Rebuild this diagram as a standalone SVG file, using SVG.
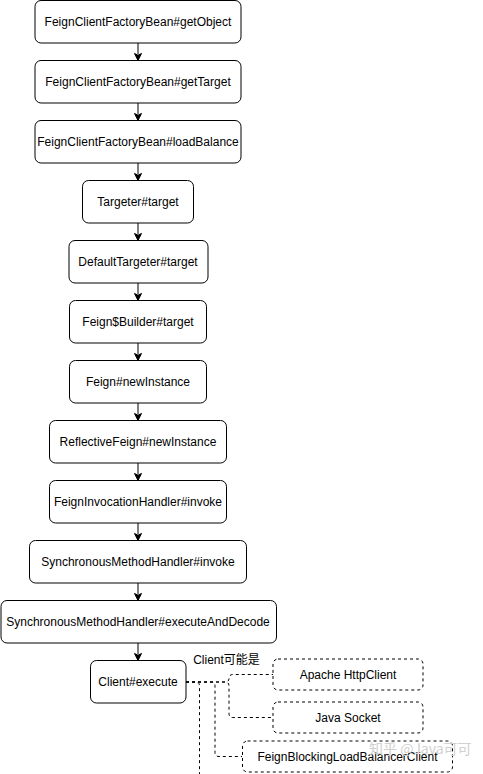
<svg xmlns="http://www.w3.org/2000/svg" width="483" height="774" viewBox="0 0 483 774">
<style>
.n{fill:#fff;stroke:#000;stroke-width:1}
.d{fill:#fff;stroke:#000;stroke-width:1;stroke-dasharray:3 3}
.t{font-family:"Liberation Sans",Arial,"Noto Sans CJK SC",sans-serif;font-size:12px;fill:#000;text-anchor:middle;dominant-baseline:central}
.e{fill:none;stroke:#000;stroke-width:1}
.de{fill:none;stroke:#000;stroke-width:1;stroke-dasharray:3 3}
.ah{fill:#000;stroke:#000;stroke-width:1}
</style>
<rect width="483" height="774" fill="#fff"/>
<g id="connectors">
<path class="e" d="M138 43V54 M138 103V114 M138 163V174 M138 223V234 M138 283V294 M138 343V354 M138 403V414 M138 463V474 M138 523V534 M138 583V594 M138 643V654"/>
<polygon class="ah" points="138,60.5 134.5,53.5 138,55.2 141.5,53.5"/>
<polygon class="ah" points="138,120.5 134.5,113.5 138,115.2 141.5,113.5"/>
<polygon class="ah" points="138,180.5 134.5,173.5 138,175.2 141.5,173.5"/>
<polygon class="ah" points="138,240.5 134.5,233.5 138,235.2 141.5,233.5"/>
<polygon class="ah" points="138,300.5 134.5,293.5 138,295.2 141.5,293.5"/>
<polygon class="ah" points="138,360.5 134.5,353.5 138,355.2 141.5,353.5"/>
<polygon class="ah" points="138,420.5 134.5,413.5 138,415.2 141.5,413.5"/>
<polygon class="ah" points="138,480.5 134.5,473.5 138,475.2 141.5,473.5"/>
<polygon class="ah" points="138,540.5 134.5,533.5 138,535.2 141.5,533.5"/>
<polygon class="ah" points="138,600.5 134.5,593.5 138,595.2 141.5,593.5"/>
<polygon class="ah" points="138,660.5 134.5,653.5 138,655.2 141.5,653.5"/>
<path class="de" d="M186 682H225Q229 682 229 678.5Q229 674.5 233 674.5H273"/>
<path class="de" d="M186 682H225Q229 682 229 686V713.5Q229 717.5 233 717.5H273"/>
<path class="de" d="M186 682H211Q215 682 215 686V752.5Q215 756.5 219 756.5H242"/>
<path class="de" d="M186 682H195.5Q199.5 682 199.5 686V774"/>
</g>
<g id="n1"><rect class="n" x="35" y="0.5" width="206" height="42.5" rx="6"/><text class="t" x="138" y="22">FeignClientFactoryBean#getObject</text></g>
<g id="n2"><rect class="n" x="35" y="60.5" width="206" height="42.5" rx="6"/><text class="t" x="138" y="82">FeignClientFactoryBean#getTarget</text></g>
<g id="n3"><rect class="n" x="35" y="120.5" width="206" height="42.5" rx="6"/><text class="t" x="138" y="142">FeignClientFactoryBean#loadBalance</text></g>
<g id="n4"><rect class="n" x="82.5" y="180.5" width="111" height="42.5" rx="6"/><text class="t" x="138" y="202">Targeter#target</text></g>
<g id="n5"><rect class="n" x="69" y="240.5" width="139" height="42.5" rx="6"/><text class="t" x="138" y="262">DefaultTargeter#target</text></g>
<g id="n6"><rect class="n" x="69.5" y="300.5" width="137" height="42.5" rx="6"/><text class="t" x="138" y="322">Feign$Builder#target</text></g>
<g id="n7"><rect class="n" x="69.5" y="360.5" width="137" height="42.5" rx="6"/><text class="t" x="138" y="382">Feign#newInstance</text></g>
<g id="n8"><rect class="n" x="49.5" y="420.5" width="177" height="42.5" rx="6"/><text class="t" x="138" y="442">ReflectiveFeign#newInstance</text></g>
<g id="n9"><rect class="n" x="49.5" y="480.5" width="177" height="42.5" rx="6"/><text class="t" x="138" y="502">FeignInvocationHandler#invoke</text></g>
<g id="n10"><rect class="n" x="29.5" y="540.5" width="217" height="42.5" rx="6"/><text class="t" x="138" y="562">SynchronousMethodHandler#invoke</text></g>
<g id="n11"><rect class="n" x="1" y="600.5" width="275.5" height="42.5" rx="6"/><text class="t" x="138" y="622">SynchronousMethodHandler#executeAndDecode</text></g>
<g id="n12"><rect class="n" x="90.5" y="660.5" width="95.5" height="42.5" rx="6"/><text class="t" x="138" y="682">Client#execute</text></g>
<g id="label"><text class="t" x="226.5" y="660">Client可能是</text></g>
<g id="n13"><rect class="d" x="273" y="659" width="150" height="31" rx="5"/><text class="t" x="348" y="674.5">Apache HttpClient</text></g>
<g id="n14"><rect class="d" x="273" y="702" width="150" height="31" rx="5"/><text class="t" x="348" y="717.5">Java Socket</text></g>
<g id="n15"><rect class="d" x="242.5" y="741" width="210" height="31" rx="5"/><text class="t" x="347.5" y="756.5">FeignBlockingLoadBalancerClient</text></g>
<text x="369" y="754" font-family="'Noto Sans CJK SC','Liberation Sans',sans-serif" font-size="14" fill="#d0d0d0">知乎 @Java可可</text>
</svg>
